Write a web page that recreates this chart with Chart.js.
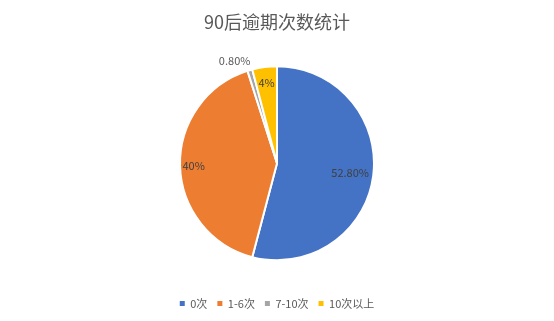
<!DOCTYPE html>
<html>
<head>
<meta charset="utf-8">
<script src="https://cdn.jsdelivr.net/npm/chart.js@4.4.0/dist/chart.umd.min.js"></script>
<style>
  html, body { margin: 0; padding: 0; background: #fff; }
  #wrap { width: 554px; height: 321px; }
</style>
</head>
<body>
<div id="wrap"><canvas id="chart"></canvas></div>
<script>
const categories = ['0次', '1-6次', '7-10次', '10次以上'];
const values = [52.8, 40, 0.8, 4];
const valueLabels = ['52.80%', '40%', '0.80%', '4%'];
const colors = ['#4472C4', '#ED7D31', '#A5A5A5', '#FFC000'];

const FONT = '"Noto Sans CJK SC", "Noto Sans", sans-serif';

// draws the percentage labels, distance from centre is a fraction of the radius
const sliceLabels = {
  id: 'sliceLabels',
  afterDatasetsDraw(chart, args, opts) {
    const ctx = chart.ctx;
    const meta = chart.getDatasetMeta(0);
    ctx.save();
    ctx.font = '11px ' + FONT;
    ctx.textAlign = 'center';
    ctx.textBaseline = 'middle';
    meta.data.forEach((arc, i) => {
      const p = arc.getProps(['x', 'y', 'startAngle', 'endAngle', 'outerRadius'], true);
      const mid = (p.startAngle + p.endAngle) / 2 + (opts.turn[i] || 0);
      const r = p.outerRadius * opts.dist[i];
      ctx.fillStyle = opts.color[i];
      ctx.fillText(valueLabels[i], p.x + Math.cos(mid) * r, p.y + Math.sin(mid) * r);
    });
    ctx.restore();
  }
};

new Chart(document.getElementById('chart'), {
  type: 'pie',
  data: {
    labels: categories,
    datasets: [{
      data: values,
      backgroundColor: colors,
      borderColor: '#ffffff',
      borderWidth: 2,
      radius: 97
    }]
  },
  options: {
    responsive: true,
    maintainAspectRatio: false,
    animation: false,
    layout: { padding: { top: 0, bottom: 2 } },
    plugins: {
      title: {
        display: true,
        text: '90后逾期次数统计',
        color: '#595959',
        font: { family: FONT, size: 18, weight: 'normal' },
        padding: { top: 11, bottom: 6 }
      },
      legend: {
        position: 'bottom',
        labels: {
          color: '#595959',
          font: { family: FONT, size: 11 },
          boxWidth: 5,
          boxHeight: 5,
          padding: 10,
          generateLabels(chart) {
            const items = Chart.overrides.pie.plugins.legend.labels.generateLabels(chart);
            items.forEach(it => { it.lineWidth = 0; it.strokeStyle = it.fillStyle; });
            return items;
          }
        }
      },
      tooltip: { enabled: false },
      sliceLabels: {
        dist: [0.76, 0.86, 1.14, 0.84],
        turn: [0, 0, -0.11, 0],
        color: ['#404040', '#404040', '#595959', '#404040']
      }
    }
  },
  plugins: [sliceLabels]
});
</script>
</body>
</html>
